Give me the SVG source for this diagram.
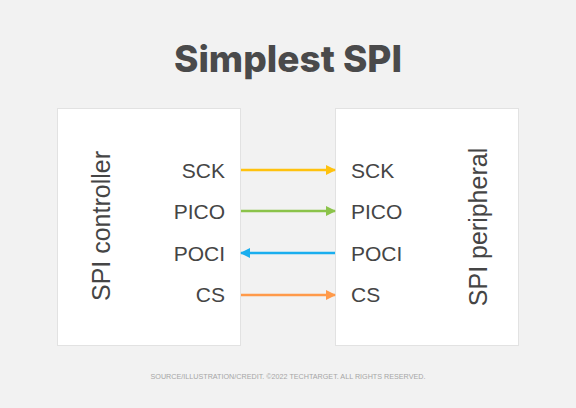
<svg xmlns="http://www.w3.org/2000/svg" width="576" height="408" viewBox="0 0 576 408">
<defs>
<style>
.box{fill:#ffffff;stroke:#e2e2e2;stroke-width:1}
.lbl{font-family:"Liberation Sans",Arial,sans-serif;font-size:21px;fill:#454545}
.side{font-family:"Liberation Sans",Arial,sans-serif;font-size:25px;fill:#454545}
.title{font-family:Inter,"Liberation Sans",sans-serif;font-weight:800;font-size:37px;fill:#4a4a4b}
.foot{font-family:"Liberation Sans",Arial,sans-serif;font-size:7.2px;fill:#a6a6a6}
.ln{stroke-width:2.5;fill:none}
</style>
<marker id="mY" viewBox="0 0 10 10" refX="9" refY="5" markerWidth="4" markerHeight="4" orient="auto" markerUnits="strokeWidth"><path d="M0,0 L10,5 L0,10 z" fill="#ffc20e"/></marker>
<marker id="mG" viewBox="0 0 10 10" refX="9" refY="5" markerWidth="4" markerHeight="4" orient="auto" markerUnits="strokeWidth"><path d="M0,0 L10,5 L0,10 z" fill="#8bc34a"/></marker>
<marker id="mB" viewBox="0 0 10 10" refX="9" refY="5" markerWidth="4" markerHeight="4" orient="auto" markerUnits="strokeWidth"><path d="M0,0 L10,5 L0,10 z" fill="#1aaeef"/></marker>
<marker id="mO" viewBox="0 0 10 10" refX="9" refY="5" markerWidth="4" markerHeight="4" orient="auto" markerUnits="strokeWidth"><path d="M0,0 L10,5 L0,10 z" fill="#ff9a4a"/></marker>
</defs>
<rect width="576" height="408" fill="#f2f2f2"/>
<text class="title" x="288" y="72" text-anchor="middle">Simplest SPI</text>
<g id="controller">
<rect class="box" x="57.5" y="108.5" width="183" height="237"/>
<text class="side" transform="translate(110,226) rotate(-90)" text-anchor="middle">SPI controller</text>
<text class="lbl" x="225" y="178" text-anchor="end">SCK</text>
<text class="lbl" x="225" y="219" text-anchor="end">PICO</text>
<text class="lbl" x="225" y="261" text-anchor="end">POCI</text>
<text class="lbl" x="225" y="302" text-anchor="end">CS</text>
</g>
<g id="peripheral">
<rect class="box" x="335.5" y="108.5" width="183" height="237"/>
<text class="side" transform="translate(487,227) rotate(-90)" text-anchor="middle">SPI peripheral</text>
<text class="lbl" x="351" y="178">SCK</text>
<text class="lbl" x="351" y="219">PICO</text>
<text class="lbl" x="351" y="261">POCI</text>
<text class="lbl" x="351" y="302">CS</text>
</g>
<g id="connectors">
<line class="ln" x1="241" y1="170" x2="335" y2="170" stroke="#ffc20e" marker-end="url(#mY)"/>
<line class="ln" x1="241" y1="211" x2="335" y2="211" stroke="#8bc34a" marker-end="url(#mG)"/>
<line class="ln" x1="335" y1="253" x2="241" y2="253" stroke="#1aaeef" marker-end="url(#mB)"/>
<line class="ln" x1="241" y1="295" x2="335" y2="295" stroke="#ff9a4a" marker-end="url(#mO)"/>
</g>
<text class="foot" x="288" y="379" text-anchor="middle">SOURCE/ILLUSTRATION/CREDIT. ©2022 TECHTARGET. ALL RIGHTS RESERVED.</text>
</svg>
